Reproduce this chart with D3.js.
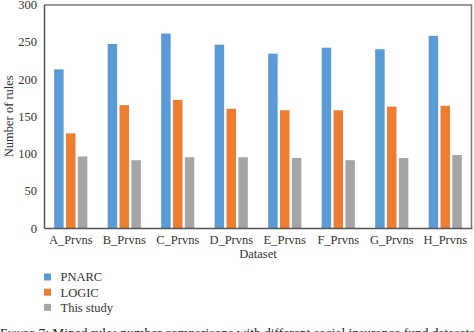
<!DOCTYPE html>
<html>
<head>
<meta charset="utf-8">
<script src="https://cdn.jsdelivr.net/npm/d3@7"></script>
<style>
  body { margin: 0; background: #fff; }
  svg { display: block; font-family: "Liberation Serif", "DejaVu Serif", serif; }
  .tick text { font-size: 12.5px; fill: #333; }
  .axis-title { font-size: 12.5px; fill: #333; }
  .legend text { font-size: 12.5px; fill: #333; }
  .caption { font-size: 13.5px; fill: #222; }
</style>
</head>
<body>
<div id="chart"></div>
<script>
'use strict';

var datasets = ['A_Prvns', 'B_Prvns', 'C_Prvns', 'D_Prvns', 'E_Prvns', 'F_Prvns', 'G_Prvns', 'H_Prvns'];
var seriesNames = ['PNARC', 'LOGIC', 'This study'];
var pnarc = [213, 247, 261, 246, 234, 242, 240, 258];
var logic = [127, 165, 172, 160, 158, 158, 163, 164];
var thisStudy = [96, 91, 95, 95, 94, 91, 94, 98];
var yTicks = [0, 50, 100, 150, 200, 250, 300];
var colors = ['#5b9bd5', '#ed7d31', '#a5a5a5'];

var svgWidth = 474, svgHeight = 332;
var margin = {top: 4.5, right: 2, bottom: 104, left: 44},
    width = svgWidth - margin.left - margin.right,
    height = svgHeight - margin.top - margin.bottom;

var series = [pnarc, logic, thisStudy];
var rows = datasets.map(function(d, i) {
    return {name: d, values: series.map(function(s) { return s[i]; })};
});

var svg = d3.select('#chart').append('svg')
    .attr('width', svgWidth)
    .attr('height', svgHeight);

var g = svg.append('g')
    .attr('transform', 'translate(' + margin.left + ',' + margin.top + ')');

// scales
var x = d3.scaleBand().domain(datasets).range([0, width]).paddingInner(0).paddingOuter(0);
var xInner = d3.scaleBand().domain(d3.range(series.length))
    .range([x.bandwidth() * 0.19, x.bandwidth() * 0.81]).paddingInner(0.2);
var y = d3.scaleLinear().domain([0, 300]).range([height, 0]);

// frame on top and right
g.append('path')
    .attr('d', 'M0,0.5H' + (width - 0.5) + 'V' + height)
    .attr('fill', 'none')
    .attr('stroke', '#777')
    .attr('stroke-width', 1.5);

// bars
var groups = g.selectAll('.group')
    .data(rows)
    .enter().append('g')
    .attr('class', 'group')
    .attr('transform', function(d) { return 'translate(' + x(d.name) + ',0)'; });

groups.selectAll('rect')
    .data(function(d) { return d.values; })
    .enter().append('rect')
    .attr('x', function(d, i) { return xInner(i); })
    .attr('width', xInner.bandwidth())
    .attr('y', function(d) { return y(d); })
    .attr('height', function(d) { return height - y(d); })
    .attr('fill', function(d, i) { return colors[i]; });

// axes (drop d3's default sans-serif so the page font applies)
var yAxis = g.append('g')
    .call(d3.axisLeft(y).tickValues(yTicks).tickSize(0).tickPadding(7))
    .attr('font-family', null)
    .attr('font-size', null);
yAxis.select('.domain').attr('stroke', '#555').attr('stroke-width', 1.5);

var xAxis = g.append('g')
    .attr('transform', 'translate(0,' + height + ')')
    .call(d3.axisBottom(x).tickSize(0).tickPadding(7))
    .attr('font-family', null)
    .attr('font-size', null);
xAxis.select('.domain').attr('stroke', '#555').attr('stroke-width', 1.5);

g.append('text')
    .attr('class', 'axis-title')
    .attr('transform', 'translate(' + (-31) + ',' + (height / 2) + ') rotate(-90)')
    .attr('text-anchor', 'middle')
    .text('Number of rules');

g.append('text')
    .attr('class', 'axis-title')
    .attr('x', width / 2)
    .attr('y', height + 30)
    .attr('text-anchor', 'middle')
    .text('Dataset');

// legend
var legend = svg.append('g')
    .attr('class', 'legend')
    .attr('transform', 'translate(44,277)');

var items = legend.selectAll('g')
    .data(seriesNames)
    .enter().append('g')
    .attr('transform', function(d, i) { return 'translate(0,' + (i * 15.2) + ')'; });

items.append('rect')
    .attr('x', 0)
    .attr('y', -3.5)
    .attr('width', 7)
    .attr('height', 7)
    .attr('fill', function(d, i) { return colors[i]; });

items.append('text')
    .attr('x', 16.5)
    .attr('dy', '0.35em')
    .text(function(d) { return d; });

// caption
var caption = svg.append('text')
    .attr('class', 'caption')
    .attr('x', 0)
    .attr('y', 337);
caption.append('tspan').style('font-variant', 'small-caps').text('Figure 7:');
caption.append('tspan').text(' Mined rules number comparisons with different social insurance fund datasets.');
</script>
</body>
</html>
